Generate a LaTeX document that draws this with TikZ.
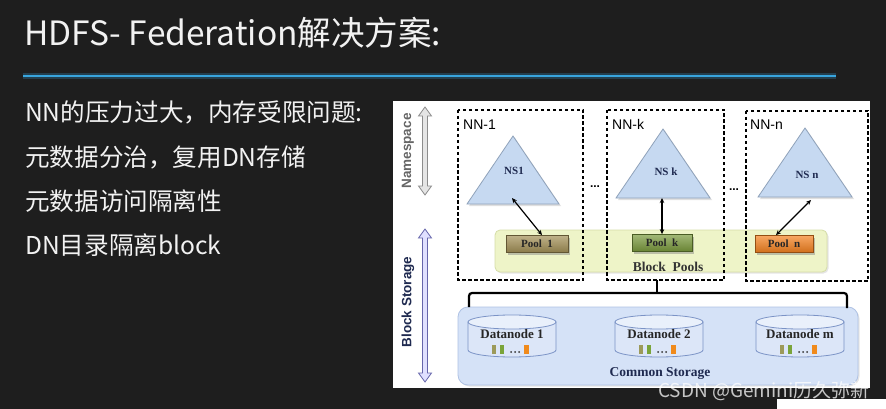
\documentclass[tikz,border=0pt]{standalone}
\usepackage{fontspec}
\newfontfamily\cjkf{Noto Sans CJK SC}
\newfontfamily\arialf{Liberation Sans}
\newfontfamily\serf{Liberation Serif}
\usetikzlibrary{shadows,calc,arrows.meta}
\definecolor{bgc}{HTML}{1E1E1E}
\definecolor{txt}{HTML}{F2F2F2}
\definecolor{blueline}{HTML}{38A5DE}
\definecolor{trif}{HTML}{C6D9F1}
\definecolor{trib}{HTML}{8FA2BA}
\definecolor{stripf}{HTML}{EEF4C8}
\definecolor{stripb}{HTML}{D5DDA8}
\definecolor{poolone}{HTML}{A39056}
\definecolor{poolk}{HTML}{7A9A3C}
\definecolor{pooln}{HTML}{F58220}
\definecolor{commf}{HTML}{D5E2F7}
\definecolor{commb}{HTML}{AFC2E4}
\definecolor{cylf}{HTML}{DCE6F8}
\definecolor{cylt}{HTML}{E9F0FB}
\definecolor{cylb}{HTML}{7B93C6}
\definecolor{barol}{HTML}{9C9A5A}
\definecolor{bargr}{HTML}{7AA43A}
\definecolor{baror}{HTML}{F08A1C}
\definecolor{navy}{HTML}{1F2A50}
\tikzset{
  lefttext/.style={anchor=base west, inner sep=0, text=txt, font=\cjkf\fontsize{24.6}{28}\selectfont},
  nnbox/.style={draw=black, line width=1.4, dash pattern=on 3.5pt off 2.5pt},
  nnlabel/.style={anchor=base west, inner sep=0, font=\arialf\fontsize{14}{16}\selectfont},
  tri/.style={fill=trif, draw=trib, line width=0.8, drop shadow={opacity=0.25, shadow xshift=2pt, shadow yshift=-2pt}},
  nslabel/.style={inner sep=0, text=navy, font=\serf\bfseries\fontsize{11}{13}\selectfont},
  poolbox/.style={draw=#1!60!black, line width=0.8, top color=#1!70!white, bottom color=#1!85!black,
     minimum height=17pt, inner sep=0, text=black!85, font=\serf\bfseries\fontsize{11}{12}\selectfont,
     drop shadow={opacity=0.45, shadow xshift=2pt, shadow yshift=-2pt}},
  biarrow/.style={line width=1.2, {Stealth[length=5pt,width=4.5pt]}-{Stealth[length=5pt,width=4.5pt]}},
  serlabel/.style={inner sep=0, text=navy, font=\serf\bfseries\fontsize{13.5}{15}\selectfont},
  dots/.style={inner sep=0, font=\arialf\bfseries\fontsize{12}{14}\selectfont}
}
\begin{document}
\begin{tikzpicture}[x=1pt,y=-1pt]
\useasboundingbox (0,0) rectangle (886,409);
\fill[bgc] (0,0) rectangle (886,409);
% title
\node[anchor=base west, inner sep=0, text=txt, font=\cjkf\fontsize{33.5}{38}\selectfont] (title) at (24,46) {HDFS- Federation解决方案:};
\coordinate (bl1) at (23,76);
\coordinate (bl2) at (836,76);
\draw[blueline, line width=6, opacity=0.25] (bl1) -- (bl2);
\draw[blueline, line width=2.6] (bl1) -- (bl2);
% left text
\node[lefttext] (l1) at (25,122) {NN的压力过大，内存受限问题:};
\node[lefttext] (l2) at (25,166) {元数据分治，复用DN存储};
\node[lefttext] (l3) at (25,210) {元数据访问隔离性};
\node[lefttext] (l4) at (25,254) {DN目录隔离block};
% white panel
\fill[white] (393,101) rectangle (870,388);
% namespace arrow
\filldraw[fill=black!10, draw=black!45, line width=0.8]
  (425,107) -- (431.5,116) -- (427.5,116) -- (427.5,186) -- (431.5,186) -- (425,195)
  -- (418.5,186) -- (422.5,186) -- (422.5,116) -- (418.5,116) -- cycle;
\node[rotate=90, inner sep=0, text=black!60, font=\arialf\bfseries\fontsize{13.5}{15}\selectfont] (nslab) at (408,151) {Namespace};
% block storage arrow
\filldraw[fill=blue!12, draw=blue!45!black!60, line width=0.8]
  (425,229) -- (431.5,238) -- (427.5,238) -- (427.5,373) -- (431.5,373) -- (425,382)
  -- (418.5,373) -- (422.5,373) -- (422.5,238) -- (418.5,238) -- cycle;
\node[rotate=90, inner sep=0, text=navy, font=\arialf\bfseries\fontsize{13.5}{15}\selectfont] (bslab) at (408,302) {Block Storage};
% block pools strip
\filldraw[fill=stripf, draw=stripb, line width=0.8, rounded corners=5, drop shadow={opacity=0.2, shadow xshift=1.5pt, shadow yshift=-1.5pt}] (495,230) rectangle (827,272);
\node[serlabel, text=black!80] (bp) at (668,267) {Block\ \ Pools};
% NN boxes
\draw[nnbox] (458,110) rectangle (583,280);
\draw[nnbox] (607,110) rectangle (724,280);
\draw[nnbox] (746,111) rectangle (868,281);
\node[nnlabel] (nn1) at (463,130) {NN-1};
\node[nnlabel] (nnk) at (612,130) {NN-k};
\node[nnlabel] (nnn) at (750,130) {NN-n};
\node[dots] (d1) at (595,187) {...};
\node[dots] (d2) at (734,190) {...};
% triangles
\filldraw[tri] (513,136) -- (559,204) -- (467,204) -- cycle;
\filldraw[tri] (663,129) -- (710,198) -- (616,198) -- cycle;
\filldraw[tri] (805,128) -- (852,197) -- (758,197) -- cycle;
\node[nslabel] (ns1) at (514,171) {NS1};
\node[nslabel] (nsk) at (666,172) {NS k};
\node[nslabel] (nsn) at (807,175) {NS n};
% pools
\node[poolbox=poolone, minimum width=62pt] (p1) at (537,244) {Pool\ \ 1};
\node[poolbox=poolk, minimum width=60pt] (pk) at (662,243) {Pool\ \ k};
\node[poolbox=pooln, minimum width=58pt] (pn) at (784,244) {Pool\ \ n};
% arrows
\coordinate (a1) at (512,198);
\coordinate (ak) at (662,198);
\coordinate (an) at (811,200);
\draw[biarrow] (a1) -- ($(p1.north)+(5,0)$);
\draw[biarrow] (ak) -- (pk.north);
\draw[biarrow] (an) -- ($(pn.north)+(-8,0)$);
% common storage
\filldraw[fill=commf, draw=commb, line width=0.8, rounded corners=10, drop shadow={opacity=0.2, shadow xshift=1.5pt, shadow yshift=-1.5pt}] (458,307) rectangle (858,385);
\node[serlabel] (cs) at (660,374) {Common Storage};
% bracket
\coordinate (bk) at (657,280);
\coordinate (bj) at (657,293);
\draw[line width=2.2, rounded corners=3] (469,307) -- (469,293) -- (847,293) -- (847,308);
\draw[line width=2.2] (bk) -- (bj);
% datanodes
\foreach \cx/\nm/\lab in {512/dn1/Datanode 1, 659/dn2/Datanode 2, 800/dnm/Datanode m} {
  \filldraw[fill=cylf, draw=cylb, line width=0.8]
    (\cx-44,322) -- (\cx-44,350) arc[start angle=180, end angle=0, x radius=44, y radius=7]
    -- (\cx+44,322) -- cycle;
  \filldraw[fill=cylt, draw=cylb, line width=0.8] (\cx,322) ellipse [x radius=44, y radius=7];
  \node[serlabel, text=black!85, font=\serf\bfseries\fontsize{13}{14}\selectfont] (\nm) at (\cx,334) {\lab};
  \fill[barol] (\cx-20,345) rectangle (\cx-16,354);
  \fill[bargr] (\cx-12,345) rectangle (\cx-8,354);
  \fill[black!80] (\cx-1,352) circle (1) (\cx+3,352) circle (1) (\cx+7,352) circle (1);
  \fill[baror] (\cx+12,345) rectangle (\cx+17,354);
}
% bottom right white piece
\fill[white] (777,399) rectangle (886,409);
% watermark
\node[anchor=base west, inner sep=0, text=white, opacity=0.75, font=\cjkf\fontsize{19}{22}\selectfont] (wm) at (658,397) {CSDN @Gemini历久弥新};
\end{tikzpicture}
\end{document}
